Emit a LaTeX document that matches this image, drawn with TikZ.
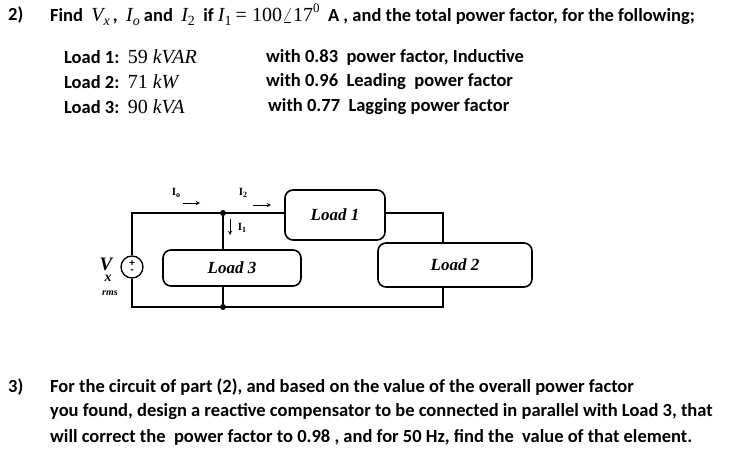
\documentclass[tikz,border=0pt]{standalone}
\usepackage{fontspec}
\setmainfont{Carlito}
\newfontfamily\mserif{Liberation Serif}
\newcommand{\ms}[1]{{\mdseries\mserif\fontsize{20}{22}\selectfont #1}}
\newcommand{\mv}[1]{{\mdseries\mserif\itshape\fontsize{20}{22}\selectfont #1}}
\newcommand{\lowsub}[1]{\raisebox{-0.4ex}{\mdseries\mserif\fontsize{14}{14}\selectfont #1}}
\newcommand{\smallsub}[1]{\raisebox{-0.35ex}{\fontsize{8}{8}\selectfont #1}}
\begin{document}
\begin{tikzpicture}[x=1pt,y=-1pt,
  txt/.style={anchor=west,inner sep=0pt,font=\bfseries\fontsize{18.5}{20}\selectfont},
  load/.style={draw,line width=1.6pt,rounded corners=8pt,font=\mserif\itshape\bfseries\fontsize{17}{18}\selectfont},
  w/.style={line width=1.3pt},
  lbl/.style={inner sep=0pt,font=\mserif\bfseries\fontsize{11}{12}\selectfont}]
\useasboundingbox (0,0) rectangle (756,458);
\node[txt] (q2) at (8,15) {2)};
\node[txt] (l0) at (50,15) {Find \ \mv{V}\lowsub{\itshape x}\,,\ \ \mv{I}\lowsub{\itshape o} and \ \mv{I}\lowsub{2} \ if \mv{I}\lowsub{1}\ \ms{= 100}{\fontsize{20}{22}\selectfont$\angle$}\ms{17}\raisebox{1ex}{\mdseries\mserif\fontsize{13}{13}\selectfont 0}\ \ A , and the total power factor, for the following;};
\node[txt] (a1) at (64,57) {Load 1:\ \ \ms{59 \itshape kVAR}};
\node[txt] (a2) at (64,82) {Load 2:\ \ \ms{71 \itshape kW}};
\node[txt] (a3) at (64,107) {Load 3:\ \ \ms{90 \itshape kVA}};
\node[txt] (b1) at (266,57) {with 0.83\ \ power factor, Inductive};
\node[txt] (b2) at (266,82) {with 0.96\ \ Leading\ \ power factor};
\node[txt] (b3) at (268,107) {with 0.77\ \ Lagging power factor};
% circuit
\node[load,minimum width=100,minimum height=50] (L1) at (335,215) {Load 1};
\node[load,minimum width=154,minimum height=44] (L2) at (455,265) {Load 2};
\node[load,minimum width=138,minimum height=36] (L3) at (232,268) {Load 3};
\node[draw,line width=1.3pt,circle,minimum size=22,inner sep=0pt] (S) at (132,267) {};
\node[inner sep=0pt,font=\bfseries\fontsize{11}{11}\selectfont] at (132,263) {+};
\node[inner sep=0pt,font=\bfseries\fontsize{11}{11}\selectfont] at (132,272) {-};
\coordinate (tl) at (132,213);
\coordinate (bl) at (132,307);
\coordinate (j1) at (223,213);
\coordinate (j2) at (223,307);
\coordinate (tr) at (443,213);
\coordinate (br) at (443,307);
\draw[w] (S.north) -- (tl) -- (j1) -- (L1.west |- j1);
\draw[w] (L1.east |- tr) -- (tr) -- (L2.north -| tr);
\draw[w] (L2.south -| br) -- (br) -- (j2) -- (bl) -- (S.south);
\draw[w] (j1) -- (j1 |- L3.north);
\draw[w] (j2) -- (j2 |- L3.south);
\fill (j1) circle (3);
\fill (j2) circle (3);
\node[inner sep=0pt,font=\mserif\itshape\bfseries\fontsize{19}{19}\selectfont] (vx) at (106,264) {V};
\node[inner sep=0pt,font=\mserif\itshape\bfseries\fontsize{14}{14}\selectfont] at (108,278) {x};
\node[inner sep=0pt,font=\mserif\itshape\bfseries\fontsize{10}{10}\selectfont] (rms) at (110,293) {rms};
\node[lbl] (io) at (176,193) {I\smallsub{o}};
\draw[line width=0.9pt,-stealth] (183,203) -- (200,203);
\node[lbl] (i2) at (243,193) {I\smallsub{2}};
\draw[line width=0.9pt,-stealth] (253,205) -- (271,205);
\node[lbl] (i1) at (242,228) {I\smallsub{1}};
\draw[line width=0.9pt,-stealth] (230,219) -- (230,235);
\node[txt] (q3) at (8,387) {3)};
\node[txt] (c1) at (50,387) {For the circuit of part (2), and based on the value of the overall power factor};
\node[txt] (c2) at (50,412) {you found, design a reactive compensator to be connected in parallel with Load 3, that};
\node[txt] (c3) at (50,437) {will correct the\ \ power factor to 0.98 , and for 50 Hz, find the\ \ value of that element.};
\end{tikzpicture}
\end{document}
